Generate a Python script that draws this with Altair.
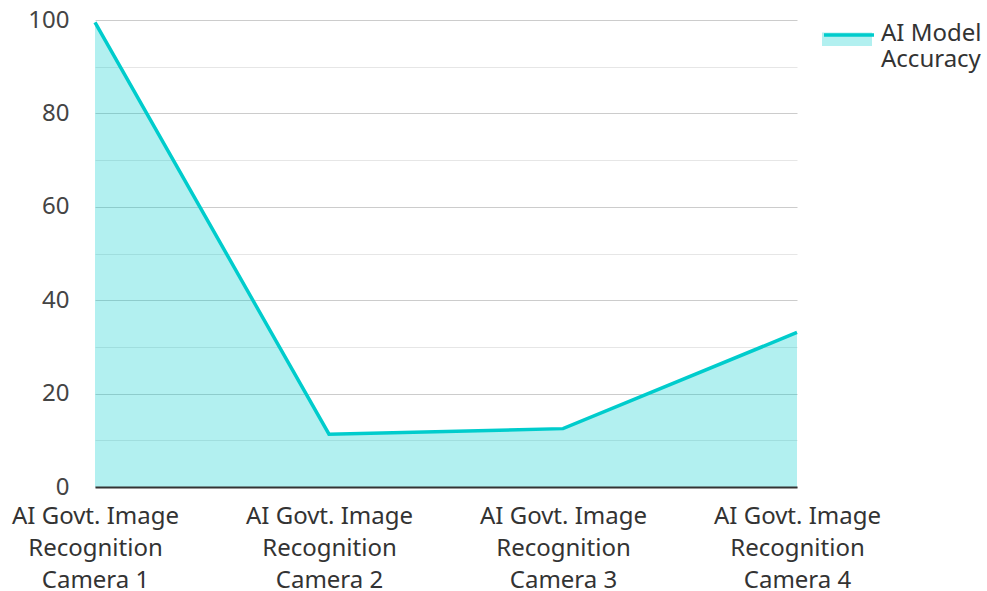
import altair as alt
import pandas as pd

categories = [
    "AI Govt. Image Recognition Camera 1",
    "AI Govt. Image Recognition Camera 2",
    "AI Govt. Image Recognition Camera 3",
    "AI Govt. Image Recognition Camera 4",
]
accuracy = [99.5, 11.3, 12.5, 33.1]
series_name = "AI Model Accuracy"
major_ticks = [0, 20, 40, 60, 80, 100]
minor_ticks = [10, 30, 50, 70, 90]

df = pd.DataFrame({"camera": categories, "accuracy": accuracy,
                   "series": [series_name] * len(categories)})

FONT = "Noto Sans"
LINE = "#00cccc"

x_enc = alt.X(
    "camera:N", sort=categories, scale=alt.Scale(padding=0),
    axis=alt.Axis(
        title=None, labelAngle=0, ticks=False, grid=False,
        labelExpr="[split(datum.label, ' Recognition ')[0], 'Recognition', split(datum.label, ' Recognition ')[1]]",
        labelFont=FONT, labelFontSize=24, labelColor="#333333", labelLineHeight=32,
        labelPadding=17, labelLimit=400, domainColor="#333333", domainWidth=2, zindex=1,
    ),
)
y_scale = alt.Scale(domain=[0, 100], nice=False)
y_enc = alt.Y(
    "accuracy:Q", scale=y_scale,
    axis=alt.Axis(
        title=None, values=major_ticks, ticks=False, domain=False, grid=True,
        gridColor="#cccccc", gridWidth=1,
        labelFont=FONT, labelFontSize=24, labelColor="#444444", labelPadding=26,
    ),
)

legend_common = dict(
    orient="none", legendX=727, legendY=-11, title=None,
    labelFont=FONT, labelFontSize=24, labelColor="#333333", labelLimit=300,
    labelExpr="[slice(datum.label, 0, 8), slice(datum.label, 9)]",
    symbolSize=2500, labelOffset=9,
)

minor = alt.Chart(df).mark_area(opacity=0).encode(
    x=x_enc,
    y=alt.Y("accuracy:Q", scale=y_scale,
            axis=alt.Axis(orient="right", values=minor_ticks, labels=False, ticks=False,
                          domain=False, grid=True, title=None,
                          gridColor="#e6e6e6", gridWidth=1)),
)

area = alt.Chart(df).mark_area(opacity=0.3).encode(
    x=x_enc, y=y_enc,
    fill=alt.Fill("series:N", scale=alt.Scale(range=[LINE]),
                  legend=alt.Legend(symbolType="M-1,-0.06H1V0.48H-1Z", symbolStrokeWidth=0,
                                    symbolOpacity=0.3, **legend_common)),
)

line = alt.Chart(df).mark_line(strokeWidth=3.5).encode(
    x=x_enc,
    y=alt.Y("accuracy:Q", scale=y_scale, axis=None),
    stroke=alt.Stroke("series:N", scale=alt.Scale(range=[LINE]),
                      legend=alt.Legend(symbolType="M-1,-0.04H1", symbolStrokeWidth=3.5,
                                        symbolFillColor="transparent", labelOpacity=0,
                                        **legend_common)),
)

chart = alt.layer(minor, area, line).resolve_axis(y="independent").properties(
    width=702, height=467,
    autosize=alt.AutoSizeParams(type="none"),
    padding={"left": 95, "top": 20, "right": 190, "bottom": 104},
    background="white",
).configure_view(stroke=None)

chart.save("out.html", embed_options={"renderer": "svg", "actions": False})
